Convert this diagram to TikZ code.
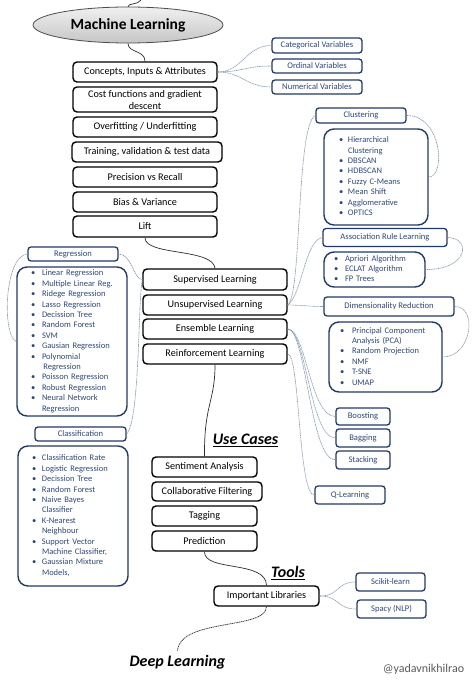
\documentclass[tikz,border=0pt]{standalone}
\usepackage{fontspec}
\setmainfont{Carlito}
\usetikzlibrary{shapes.geometric}
\definecolor{bluebord}{RGB}{34,58,102}
\definecolor{bluetext}{RGB}{48,72,120}
\definecolor{linkcol}{RGB}{130,150,178}
\definecolor{darkline}{RGB}{45,45,45}
\definecolor{handlecol}{RGB}{90,90,90}
\newcommand\litem[1]{\textbullet & #1\\}
\newcommand\lcont[1]{& #1\\}
\begin{document}
\begin{tikzpicture}[x=1pt,y=-1pt,
  mainbox/.style={draw=black, line width=1.4pt, rounded corners=4pt, fill=white, inner sep=0pt, align=center, font=\fontsize{10.2}{12}\selectfont},
  bluebox/.style={draw=bluebord, line width=1.3pt, rounded corners=3pt, fill=white, inner sep=0pt, text=bluetext, font=\fontsize{8.6}{10}\selectfont},
  listbox/.style={draw=bluebord, line width=1.4pt, rounded corners=10pt, fill=white, inner ysep=0pt, text=bluetext, align=left, font=\fontsize{8.5}{10.4}\selectfont},
  link/.style={draw=linkcol, line width=0.6pt, dash pattern=on 1.2pt off 0.6pt},
  solidlink/.style={draw=darkline, line width=0.7pt},
  darkdash/.style={draw=darkline, line width=0.7pt, dash pattern=on 1.2pt off 0.6pt},
  headtext/.style={font=\fontsize{16}{18}\selectfont\bfseries\itshape, inner xsep=0pt, inner ysep=4pt}
]
\fill[white] (0,0) rectangle (474,684);
\useasboundingbox (0,0) rectangle (474,684);

% main column
\node[ellipse, draw=gray!60!black, line width=0.8pt, top color=gray!12, bottom color=gray!45, minimum width=190pt, minimum height=36pt, inner sep=0pt, font=\fontsize{15.5}{17}\selectfont\bfseries] (ml) at (128,25) {Machine Learning};
\coordinate (mltop) at (141,0);
\node[mainbox, minimum width=144pt, minimum height=20pt] (concepts) at (145,72) {Concepts, Inputs \& Attributes};
\node[mainbox, minimum width=144pt, minimum height=25pt] (cost) at (145,99.5) {Cost functions and gradient\\descent};
\node[mainbox, minimum width=144pt, minimum height=20pt] (overfit) at (145,127) {Overfitting / Underfitting};
\node[mainbox, minimum width=150pt, minimum height=20pt] (training) at (147,152) {Training, validation \& test data};
\node[mainbox, minimum width=144pt, minimum height=20pt] (precision) at (145,177) {Precision vs Recall};
\node[mainbox, minimum width=144pt, minimum height=20pt] (bias) at (145,202) {Bias \& Variance};
\node[mainbox, minimum width=144pt, minimum height=21pt] (lift) at (145,226.5) {Lift};

\node[mainbox, minimum width=144pt, minimum height=21pt] (supervised) at (215,279.5) {Supervised Learning};
\node[mainbox, minimum width=144pt, minimum height=20pt] (unsup) at (215,305) {Unsupervised Learning};
\node[mainbox, minimum width=144pt, minimum height=20pt] (ensemble) at (215,329) {Ensemble Learning};
\node[mainbox, minimum width=144pt, minimum height=20pt] (reinf) at (215,354) {Reinforcement Learning};

\node[headtext] (usecases) at (245.5,440) {\underline{Use Cases}};
\node[mainbox, minimum width=105pt, minimum height=20pt] (sentiment) at (204.5,467) {Sentiment Analysis};
\node[mainbox, minimum width=110pt, minimum height=19pt] (collab) at (207,491.5) {Collaborative Filtering};
\node[mainbox, minimum width=105pt, minimum height=20pt] (tagging) at (204.5,516) {Tagging};
\node[mainbox, minimum width=105pt, minimum height=20pt] (prediction) at (204.5,541) {Prediction};

\node[headtext] (tools) at (288,573) {\underline{Tools}};
\node[mainbox, minimum width=105pt, minimum height=20pt] (important) at (266.5,596) {Important Libraries};
\node[headtext] (deep) at (177.5,662) {Deep Learning};
\node[font=\fontsize{12}{14}\selectfont, text=handlecol, inner sep=0pt] (handle) at (423.5,669) {@yadavnikhilrao};

% attribute boxes
\node[bluebox, minimum width=90pt, minimum height=15pt] (cat) at (317,45.5) {Categorical Variables};
\node[bluebox, minimum width=90pt, minimum height=14pt] (ord) at (317,66) {Ordinal Variables};
\node[bluebox, minimum width=90pt, minimum height=14pt] (num) at (317,87) {Numerical Variables};

% unsupervised groups
\node[bluebox, minimum width=90pt, minimum height=15pt] (clustering) at (361,115.5) {Clustering};
\node[listbox, text width=74pt, inner xsep=15pt, minimum height=96pt] (clist) at (376,177) {\begin{tabular}{@{}p{9pt}@{}l@{}}
\litem{Hierarchical}
\lcont{Clustering}
\litem{DBSCAN}
\litem{HDBSCAN}
\litem{Fuzzy C-Means}
\litem{Mean Shift}
\litem{Agglomerative}
\litem{OPTICS}
\end{tabular}};
\node[bluebox, minimum width=124pt, minimum height=18pt] (assoc) at (385,237.5) {Association Rule Learning};
\node[listbox, text width=81pt, inner xsep=10pt, minimum height=35pt] (alist) at (374.5,269.5) {\begin{tabular}{@{}p{11pt}@{}l@{}}
\litem{Apriori Algorithm}
\litem{ECLAT Algorithm}
\litem{FP Trees}
\end{tabular}};
\node[bluebox, minimum width=130pt, minimum height=19pt] (dim) at (389,306.5) {Dimensionality Reduction};
\node[listbox, text width=91pt, inner xsep=11pt, minimum height=70pt] (dlist) at (385.5,357) {\begin{tabular}{@{}p{12pt}@{}l@{}}
\litem{Principal Component}
\lcont{Analysis (PCA)}
\litem{Random Projection}
\litem{NMF}
\litem{T-SNE}
\litem{UMAP}
\end{tabular}};

% ensemble / reinforcement
\node[bluebox, minimum width=54pt, minimum height=17pt] (boosting) at (363,416.5) {Boosting};
\node[bluebox, minimum width=54pt, minimum height=18pt] (bagging) at (363,438) {Bagging};
\node[bluebox, minimum width=54pt, minimum height=18pt] (stacking) at (363,460) {Stacking};
\node[bluebox, minimum width=70pt, minimum height=18pt] (qlearn) at (350,495) {Q-Learning};

% supervised groups
\node[bluebox, minimum width=90pt, minimum height=14pt] (regression) at (73,254) {Regression};
\node[listbox, text width=82pt, inner xsep=14pt, minimum height=149pt] (reglist) at (72,341.5) {\begin{tabular}{@{}p{11pt}@{}l@{}}
\litem{Linear Regression}
\litem{Multiple Linear Reg.}
\litem{Ridege Regression}
\litem{Lasso Regression}
\litem{Decission Tree}
\litem{Random Forest}
\litem{SVM}
\litem{Gausian Regression}
\litem{Polynomial}
\lcont{\,Regression}
\litem{Poisson Regression}
\litem{Robust Regression}
\litem{Neural Network}
\lcont{Regression}
\end{tabular}};
\node[bluebox, minimum width=91pt, minimum height=14pt] (classification) at (80.5,434) {Classification};
\node[listbox, text width=82pt, inner xsep=14pt, minimum height=140pt] (clslist) at (73,516) {\begin{tabular}{@{}p{10pt}@{}l@{}}
\litem{Classification Rate}
\litem{Logistic Regression}
\litem{Decission Tree}
\litem{Random Forest}
\litem{Naive Bayes}
\lcont{Classifier}
\litem{K-Nearest}
\lcont{Neighbour}
\litem{Support Vector}
\lcont{Machine Classifier,}
\litem{Gaussian Mixture}
\lcont{Models,}
\end{tabular}};

% tools
\node[bluebox, minimum width=69pt, minimum height=18pt] (scikit) at (390.5,582) {Scikit-learn};
\node[bluebox, minimum width=69pt, minimum height=18pt] (spacy) at (391.5,609) {Spacy (NLP)};

% solid connectors
\draw[solidlink] (ml.north) .. controls (128,3) and (138,5) .. (mltop);
\draw[solidlink] (ml.south) .. controls (128,53) and (145,50) .. (concepts.north);
\draw[solidlink] (lift.south) .. controls (145,256) and (213,248) .. (supervised.north);
\draw[solidlink] (reinf.south) .. controls (215,402) and (204,404) .. (sentiment.north);
\draw[solidlink] (prediction.south) .. controls (204,572) and (266,560) .. (important.north);
\draw[darkdash] (important.south) .. controls (266,630) and (180,618) .. (deep.north);

% dashed connectors
\draw[link] (concepts.east) .. controls (242,72) and (246,45.5) .. (cat.west);
\draw[link] (concepts.east) .. controls (242,72) and (246,66) .. (ord.west);
\draw[link] (concepts.east) .. controls (242,72) and (246,87) .. (num.west);

\draw[link] (unsup.east) .. controls (302,295) and (296,125) .. (clustering.west);
\draw[link] (unsup.east) .. controls (302,295) and (305,240) .. (assoc.west);
\draw[link] (unsup.east) .. controls (300,305) and (310,306.5) .. (dim.west);
\draw[link] (clustering.east) .. controls (442,115) and (446,177) .. (clist.east);
\draw[link] (assoc.east) .. controls (472,238) and (468,270) .. (alist.east);
\draw[link] (dim.east) .. controls (478,306) and (472,357) .. (dlist.east);

\draw[link] (ensemble.east) .. controls (306,329) and (310,416.5) .. (boosting.west);
\draw[link] (ensemble.east) .. controls (306,329) and (310,438) .. (bagging.west);
\draw[link] (ensemble.east) .. controls (306,329) and (310,460) .. (stacking.west);
\draw[link] (reinf.east) .. controls (300,354) and (298,495) .. (qlearn.west);

\draw[link] (supervised.west) .. controls (133,279) and (132,254) .. (regression.east);
\draw[link] (regression.west) .. controls (4,256) and (2,336) .. (reglist.west);
\draw[link] (supervised.west) .. controls (138,300) and (140,420) .. (classification.east);

\draw[link] (important.east) .. controls (340,596) and (336,582) .. (scikit.west);
\draw[link] (important.east) .. controls (340,596) and (336,609) .. (spacy.west);
\end{tikzpicture}
\end{document}
